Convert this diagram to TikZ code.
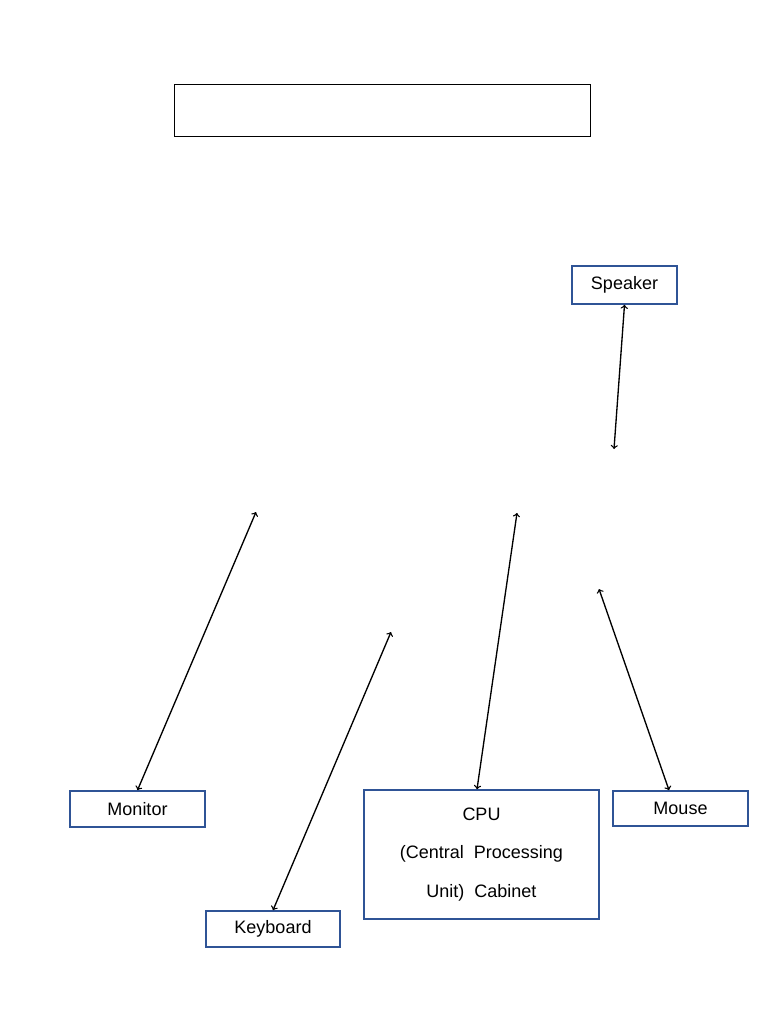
\documentclass[tikz,border=0pt]{standalone}
\usepackage{fontspec}
\setmainfont{Liberation Sans}
\usetikzlibrary{positioning}
\definecolor{boxblue}{HTML}{2F5496}

\tikzset{
  part/.style={draw=boxblue, line width=1.2pt, inner sep=0pt, font=\fontsize{13.5}{16}\selectfont},
  link/.style={line width=1pt, <->}
}

\begin{document}
\begin{tikzpicture}[x=0.75pt,y=-0.75pt]
\useasboundingbox (0,0) rectangle (768,1024);

%% Title box
\node[draw, line width=0.6pt, minimum width=416*0.75pt, minimum height=52*0.75pt] (title) at (382,110) {};

%% Parts
\node[part, minimum width=105*0.75pt, minimum height=38*0.75pt] (speaker) at (624.5,285) {Speaker};
\node[part, minimum width=135*0.75pt, minimum height=36*0.75pt] (monitor) at (137.5,809) {Monitor};
\node[part, minimum width=134*0.75pt, minimum height=36*0.75pt] (keyboard) at (273,929) {Keyboard};
\node[part, minimum width=135*0.75pt, minimum height=35*0.75pt] (mouse) at (680.5,808.5) {Mouse};
\node[part, minimum width=235*0.75pt, minimum height=129*0.75pt, align=center,
      font=\fontsize{13.5}{29}\selectfont] (cpu) at (481.5,854.5)
      {CPU\\(Central\ \ Processing\\Unit)\ \ Cabinet};

%% Free ends
\coordinate (spk end) at (614,449);
\coordinate (mon end) at (256,512);
\coordinate (key end) at (391,632);
\coordinate (cpu end) at (517,513);
\coordinate (mou end) at (599,589);

%% Links
\draw[link] (spk end) -- (speaker.south);
\draw[link] (mon end) -- (monitor.north);
\draw[link] (key end) -- (keyboard.north);
\draw[link] (cpu end) -- (cpu.north -| 477,0);
\draw[link] (mou end) -- (mouse.north -| 669,0);

\end{tikzpicture}
\end{document}
